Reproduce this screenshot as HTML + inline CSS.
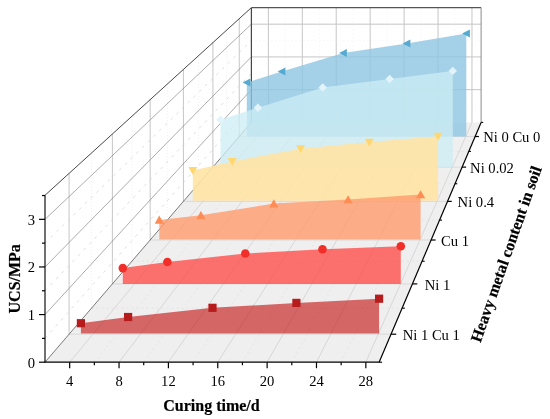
<!DOCTYPE html>
<html><head><meta charset="utf-8"><title>UCS chart</title>
<style>
html,body{margin:0;padding:0;background:#fff;}
svg{display:block;}
.t{font-family:"Liberation Serif",serif;font-size:14.6px;fill:#000;}
.b{font-family:"Liberation Serif",serif;font-size:16px;font-weight:bold;fill:#000;stroke:#000;stroke-width:0.2px;}
.bi{font-family:"Liberation Serif",serif;font-size:16.05px;font-weight:bold;fill:#000;stroke:#000;stroke-width:0.2px;}
</style></head><body>
<svg width="550" height="419" viewBox="0 0 550 419">
<rect width="550" height="419" fill="#fff"/>
<polygon points="45.00,362.20 379.11,362.20 481.10,122.40 251.39,122.40" fill="#efefef"/>
<line x1="69.68" y1="362.20" x2="268.36" y2="122.40" stroke="#d0d0d0" stroke-width="0.8"/>
<line x1="119.04" y1="362.20" x2="302.30" y2="122.40" stroke="#d0d0d0" stroke-width="0.8"/>
<line x1="168.40" y1="362.20" x2="336.23" y2="122.40" stroke="#d0d0d0" stroke-width="0.8"/>
<line x1="217.76" y1="362.20" x2="370.17" y2="122.40" stroke="#d0d0d0" stroke-width="0.8"/>
<line x1="267.12" y1="362.20" x2="404.10" y2="122.40" stroke="#d0d0d0" stroke-width="0.8"/>
<line x1="316.48" y1="362.20" x2="438.04" y2="122.40" stroke="#d0d0d0" stroke-width="0.8"/>
<line x1="365.84" y1="362.20" x2="471.98" y2="122.40" stroke="#d0d0d0" stroke-width="0.8"/>
<line x1="94.36" y1="362.20" x2="285.33" y2="122.40" stroke="#dcdcdc" stroke-width="0.6" stroke-dasharray="2 3"/>
<line x1="143.72" y1="362.20" x2="319.26" y2="122.40" stroke="#dcdcdc" stroke-width="0.6" stroke-dasharray="2 3"/>
<line x1="193.08" y1="362.20" x2="353.20" y2="122.40" stroke="#dcdcdc" stroke-width="0.6" stroke-dasharray="2 3"/>
<line x1="242.44" y1="362.20" x2="387.14" y2="122.40" stroke="#dcdcdc" stroke-width="0.6" stroke-dasharray="2 3"/>
<line x1="291.80" y1="362.20" x2="421.07" y2="122.40" stroke="#dcdcdc" stroke-width="0.6" stroke-dasharray="2 3"/>
<line x1="341.16" y1="362.20" x2="455.01" y2="122.40" stroke="#dcdcdc" stroke-width="0.6" stroke-dasharray="2 3"/>
<line x1="69.10" y1="334.20" x2="391.02" y2="334.20" stroke="#d4d4d4" stroke-width="0.8"/>
<line x1="112.39" y1="283.90" x2="412.41" y2="283.90" stroke="#d4d4d4" stroke-width="0.8"/>
<line x1="150.17" y1="240.01" x2="431.07" y2="240.01" stroke="#d4d4d4" stroke-width="0.8"/>
<line x1="183.42" y1="201.38" x2="447.51" y2="201.38" stroke="#d4d4d4" stroke-width="0.8"/>
<line x1="212.91" y1="167.11" x2="462.08" y2="167.11" stroke="#d4d4d4" stroke-width="0.8"/>
<line x1="239.25" y1="136.51" x2="475.10" y2="136.51" stroke="#d4d4d4" stroke-width="0.8"/>
<line x1="91.51" y1="308.16" x2="402.09" y2="308.16" stroke="#dcdcdc" stroke-width="0.6" stroke-dasharray="2 3"/>
<line x1="131.90" y1="261.24" x2="422.05" y2="261.24" stroke="#dcdcdc" stroke-width="0.6" stroke-dasharray="2 3"/>
<line x1="167.30" y1="220.10" x2="439.54" y2="220.10" stroke="#dcdcdc" stroke-width="0.6" stroke-dasharray="2 3"/>
<line x1="198.59" y1="183.75" x2="455.01" y2="183.75" stroke="#dcdcdc" stroke-width="0.6" stroke-dasharray="2 3"/>
<line x1="226.44" y1="151.39" x2="468.77" y2="151.39" stroke="#dcdcdc" stroke-width="0.6" stroke-dasharray="2 3"/>
<line x1="268.36" y1="122.40" x2="268.36" y2="7.65" stroke="#c6c6c6" stroke-width="1"/>
<line x1="302.30" y1="122.40" x2="302.30" y2="7.65" stroke="#c6c6c6" stroke-width="1"/>
<line x1="336.23" y1="122.40" x2="336.23" y2="7.65" stroke="#c6c6c6" stroke-width="1"/>
<line x1="370.17" y1="122.40" x2="370.17" y2="7.65" stroke="#c6c6c6" stroke-width="1"/>
<line x1="404.10" y1="122.40" x2="404.10" y2="7.65" stroke="#c6c6c6" stroke-width="1"/>
<line x1="438.04" y1="122.40" x2="438.04" y2="7.65" stroke="#c6c6c6" stroke-width="1"/>
<line x1="471.98" y1="122.40" x2="471.98" y2="7.65" stroke="#c6c6c6" stroke-width="1"/>
<line x1="285.33" y1="122.40" x2="285.33" y2="7.65" stroke="#ebebeb" stroke-width="0.6" stroke-dasharray="1 3"/>
<line x1="319.26" y1="122.40" x2="319.26" y2="7.65" stroke="#ebebeb" stroke-width="0.6" stroke-dasharray="1 3"/>
<line x1="353.20" y1="122.40" x2="353.20" y2="7.65" stroke="#ebebeb" stroke-width="0.6" stroke-dasharray="1 3"/>
<line x1="387.14" y1="122.40" x2="387.14" y2="7.65" stroke="#ebebeb" stroke-width="0.6" stroke-dasharray="1 3"/>
<line x1="421.07" y1="122.40" x2="421.07" y2="7.65" stroke="#ebebeb" stroke-width="0.6" stroke-dasharray="1 3"/>
<line x1="455.01" y1="122.40" x2="455.01" y2="7.65" stroke="#ebebeb" stroke-width="0.6" stroke-dasharray="1 3"/>
<line x1="251.39" y1="89.66" x2="481.10" y2="89.66" stroke="#c6c6c6" stroke-width="1"/>
<line x1="251.39" y1="56.92" x2="481.10" y2="56.92" stroke="#c6c6c6" stroke-width="1"/>
<line x1="251.39" y1="24.18" x2="481.10" y2="24.18" stroke="#c6c6c6" stroke-width="1"/>
<line x1="251.39" y1="106.03" x2="481.10" y2="106.03" stroke="#ebebeb" stroke-width="0.6" stroke-dasharray="1 3"/>
<line x1="251.39" y1="73.29" x2="481.10" y2="73.29" stroke="#ebebeb" stroke-width="0.6" stroke-dasharray="1 3"/>
<line x1="251.39" y1="40.55" x2="481.10" y2="40.55" stroke="#ebebeb" stroke-width="0.6" stroke-dasharray="1 3"/>
<line x1="69.10" y1="334.20" x2="69.10" y2="173.38" stroke="#c6c6c6" stroke-width="1"/>
<line x1="112.39" y1="283.90" x2="112.39" y2="134.02" stroke="#c6c6c6" stroke-width="1"/>
<line x1="150.17" y1="240.01" x2="150.17" y2="99.68" stroke="#c6c6c6" stroke-width="1"/>
<line x1="183.42" y1="201.38" x2="183.42" y2="69.45" stroke="#c6c6c6" stroke-width="1"/>
<line x1="212.91" y1="167.11" x2="212.91" y2="42.64" stroke="#c6c6c6" stroke-width="1"/>
<line x1="239.25" y1="136.51" x2="239.25" y2="18.69" stroke="#c6c6c6" stroke-width="1"/>
<line x1="91.51" y1="308.16" x2="91.51" y2="153.01" stroke="#e6e6e6" stroke-width="0.6" stroke-dasharray="1 2"/>
<line x1="131.90" y1="261.24" x2="131.90" y2="116.29" stroke="#e6e6e6" stroke-width="0.6" stroke-dasharray="1 2"/>
<line x1="167.30" y1="220.10" x2="167.30" y2="84.10" stroke="#e6e6e6" stroke-width="0.6" stroke-dasharray="1 2"/>
<line x1="198.59" y1="183.75" x2="198.59" y2="55.65" stroke="#e6e6e6" stroke-width="0.6" stroke-dasharray="1 2"/>
<line x1="226.44" y1="151.39" x2="226.44" y2="30.33" stroke="#e6e6e6" stroke-width="0.6" stroke-dasharray="1 2"/>
<line x1="45.00" y1="314.58" x2="251.39" y2="89.66" stroke="#747474" stroke-width="0.6"/>
<line x1="45.00" y1="266.96" x2="251.39" y2="56.92" stroke="#747474" stroke-width="0.6"/>
<line x1="45.00" y1="219.34" x2="251.39" y2="24.18" stroke="#747474" stroke-width="0.6"/>
<line x1="45.00" y1="338.39" x2="251.39" y2="106.03" stroke="#d0d0d0" stroke-width="0.7" stroke-dasharray="3 5"/>
<line x1="45.00" y1="290.77" x2="251.39" y2="73.29" stroke="#d0d0d0" stroke-width="0.7" stroke-dasharray="3 5"/>
<line x1="45.00" y1="243.15" x2="251.39" y2="40.55" stroke="#d0d0d0" stroke-width="0.7" stroke-dasharray="3 5"/>
<line x1="45.00" y1="362.20" x2="251.39" y2="122.40" stroke="#444" stroke-width="0.7"/>
<line x1="45.00" y1="195.29" x2="251.39" y2="7.65" stroke="#333" stroke-width="0.9"/>
<line x1="251.39" y1="122.40" x2="251.39" y2="7.65" stroke="#444" stroke-width="1.2"/>
<line x1="251.39" y1="7.65" x2="481.10" y2="7.65" stroke="#555" stroke-width="1.1"/>
<line x1="481.10" y1="7.65" x2="481.10" y2="122.40" stroke="#8a8a8a" stroke-width="1"/>
<polygon points="246.80,136.40 246.80,82.60 281.80,71.40 343.30,53.00 406.80,43.40 466.30,33.60 466.30,136.40" fill="#8fc6e2" fill-opacity="0.8"/>
<polygon points="242.60,82.60 250.40,78.60 250.40,86.60" fill="#55aad2"/>
<polygon points="277.60,71.40 285.40,67.40 285.40,75.40" fill="#55aad2"/>
<polygon points="339.10,53.00 346.90,49.00 346.90,57.00" fill="#55aad2"/>
<polygon points="402.60,43.40 410.40,39.40 410.40,47.40" fill="#55aad2"/>
<polygon points="462.10,33.60 469.90,29.60 469.90,37.60" fill="#55aad2"/>
<polygon points="220.50,167.30 220.50,119.80 257.90,107.70 322.70,87.50 389.70,79.00 452.80,70.90 452.80,167.30" fill="#cdeef5" fill-opacity="0.76"/>
<polygon points="220.50,115.60 224.70,119.80 220.50,124.00 216.30,119.80" fill="#e2f4f9"/>
<polygon points="257.90,103.50 262.10,107.70 257.90,111.90 253.70,107.70" fill="#e2f4f9"/>
<polygon points="322.70,83.30 326.90,87.50 322.70,91.70 318.50,87.50" fill="#e2f4f9"/>
<polygon points="389.70,74.80 393.90,79.00 389.70,83.20 385.50,79.00" fill="#e2f4f9"/>
<polygon points="452.80,66.70 457.00,70.90 452.80,75.10 448.60,70.90" fill="#e2f4f9"/>
<polygon points="192.80,200.80 192.80,170.50 232.20,161.40 300.60,148.70 369.30,142.10 438.10,136.20 438.10,200.80" fill="#ffe3a4" fill-opacity="0.9"/>
<polygon points="192.80,174.80 197.30,167.10 188.30,167.10" fill="#ffd76e"/>
<polygon points="232.20,165.70 236.70,158.00 227.70,158.00" fill="#ffd76e"/>
<polygon points="300.60,153.00 305.10,145.30 296.10,145.30" fill="#ffd76e"/>
<polygon points="369.30,146.40 373.80,138.70 364.80,138.70" fill="#ffd76e"/>
<polygon points="438.10,140.50 442.60,132.80 433.60,132.80" fill="#ffd76e"/>
<polygon points="159.30,239.60 159.30,219.90 200.90,215.30 273.80,203.60 348.10,199.50 420.60,194.50 420.60,239.60" fill="#ff9c6d" fill-opacity="0.8"/>
<polygon points="159.30,215.60 163.90,223.70 154.70,223.70" fill="#ff8c55"/>
<polygon points="200.90,211.00 205.50,219.10 196.30,219.10" fill="#ff8c55"/>
<polygon points="273.80,199.30 278.40,207.40 269.20,207.40" fill="#ff8c55"/>
<polygon points="348.10,195.20 352.70,203.30 343.50,203.30" fill="#ff8c55"/>
<polygon points="420.60,190.20 425.20,198.30 416.00,198.30" fill="#ff8c55"/>
<polygon points="122.80,283.90 122.80,268.10 167.40,262.00 245.30,253.50 322.50,249.20 400.80,246.30 400.80,283.90" fill="#ff4540" fill-opacity="0.75"/>
<circle cx="122.80" cy="268.10" r="4.3" fill="#f22e28"/>
<circle cx="167.40" cy="262.00" r="4.3" fill="#f22e28"/>
<circle cx="245.30" cy="253.50" r="4.3" fill="#f22e28"/>
<circle cx="322.50" cy="249.20" r="4.3" fill="#f22e28"/>
<circle cx="400.80" cy="246.30" r="4.3" fill="#f22e28"/>
<polygon points="80.90,333.60 80.90,323.20 128.10,317.00 212.50,307.80 296.40,302.90 379.10,298.70 379.10,333.60" fill="#c31212" fill-opacity="0.62"/>
<rect x="76.80" y="319.10" width="8.2" height="8.2" fill="#b71c1c"/>
<rect x="124.00" y="312.90" width="8.2" height="8.2" fill="#b71c1c"/>
<rect x="208.40" y="303.70" width="8.2" height="8.2" fill="#b71c1c"/>
<rect x="292.30" y="298.80" width="8.2" height="8.2" fill="#b71c1c"/>
<rect x="375.00" y="294.60" width="8.2" height="8.2" fill="#b71c1c"/>
<line x1="45.00" y1="362.20" x2="45.00" y2="195.29" stroke="#111" stroke-width="1.2"/>
<line x1="44.40" y1="362.20" x2="379.60" y2="362.20" stroke="#000" stroke-width="1.25"/>
<line x1="379.11" y1="362.20" x2="481.10" y2="122.40" stroke="#000" stroke-width="1.2"/>
<line x1="39.00" y1="362.20" x2="45.00" y2="362.20" stroke="#000" stroke-width="1.2"/>
<text x="35" y="367.60" text-anchor="end" class="t">0</text>
<line x1="42.00" y1="338.39" x2="45.00" y2="338.39" stroke="#000" stroke-width="1.2"/>
<line x1="39.00" y1="314.58" x2="45.00" y2="314.58" stroke="#000" stroke-width="1.2"/>
<text x="35" y="319.98" text-anchor="end" class="t">1</text>
<line x1="42.00" y1="290.77" x2="45.00" y2="290.77" stroke="#000" stroke-width="1.2"/>
<line x1="39.00" y1="266.96" x2="45.00" y2="266.96" stroke="#000" stroke-width="1.2"/>
<text x="35" y="272.36" text-anchor="end" class="t">2</text>
<line x1="42.00" y1="243.15" x2="45.00" y2="243.15" stroke="#000" stroke-width="1.2"/>
<line x1="39.00" y1="219.34" x2="45.00" y2="219.34" stroke="#000" stroke-width="1.2"/>
<text x="35" y="224.74" text-anchor="end" class="t">3</text>
<line x1="42.00" y1="195.53" x2="45.00" y2="195.53" stroke="#000" stroke-width="1.2"/>
<line x1="69.68" y1="362.20" x2="69.68" y2="368.20" stroke="#000" stroke-width="1.2"/>
<text x="69.68" y="385.6" text-anchor="middle" class="t">4</text>
<line x1="94.36" y1="362.20" x2="94.36" y2="365.20" stroke="#000" stroke-width="1.2"/>
<line x1="119.04" y1="362.20" x2="119.04" y2="368.20" stroke="#000" stroke-width="1.2"/>
<text x="119.04" y="385.6" text-anchor="middle" class="t">8</text>
<line x1="143.72" y1="362.20" x2="143.72" y2="365.20" stroke="#000" stroke-width="1.2"/>
<line x1="168.40" y1="362.20" x2="168.40" y2="368.20" stroke="#000" stroke-width="1.2"/>
<text x="168.40" y="385.6" text-anchor="middle" class="t">12</text>
<line x1="193.08" y1="362.20" x2="193.08" y2="365.20" stroke="#000" stroke-width="1.2"/>
<line x1="217.76" y1="362.20" x2="217.76" y2="368.20" stroke="#000" stroke-width="1.2"/>
<text x="217.76" y="385.6" text-anchor="middle" class="t">16</text>
<line x1="242.44" y1="362.20" x2="242.44" y2="365.20" stroke="#000" stroke-width="1.2"/>
<line x1="267.12" y1="362.20" x2="267.12" y2="368.20" stroke="#000" stroke-width="1.2"/>
<text x="267.12" y="385.6" text-anchor="middle" class="t">20</text>
<line x1="291.80" y1="362.20" x2="291.80" y2="365.20" stroke="#000" stroke-width="1.2"/>
<line x1="316.48" y1="362.20" x2="316.48" y2="368.20" stroke="#000" stroke-width="1.2"/>
<text x="316.48" y="385.6" text-anchor="middle" class="t">24</text>
<line x1="341.16" y1="362.20" x2="341.16" y2="365.20" stroke="#000" stroke-width="1.2"/>
<line x1="365.84" y1="362.20" x2="365.84" y2="368.20" stroke="#000" stroke-width="1.2"/>
<text x="365.84" y="385.6" text-anchor="middle" class="t">28</text>
<line x1="391.02" y1="334.20" x2="396.22" y2="334.20" stroke="#000" stroke-width="1.2"/>
<text x="402.70" y="340.00" class="t">Ni 1 Cu 1</text>
<line x1="412.41" y1="283.90" x2="417.26" y2="283.90" stroke="#000" stroke-width="1.2"/>
<text x="424.80" y="289.70" class="t">Ni 1</text>
<line x1="431.07" y1="240.01" x2="435.61" y2="240.01" stroke="#000" stroke-width="1.2"/>
<text x="441.00" y="245.81" class="t">Cu 1</text>
<line x1="447.51" y1="201.38" x2="451.77" y2="201.38" stroke="#000" stroke-width="1.2"/>
<text x="457.60" y="207.18" class="t">Ni 0.4</text>
<line x1="462.08" y1="167.11" x2="466.11" y2="167.11" stroke="#000" stroke-width="1.2"/>
<text x="470.10" y="172.91" class="t">Ni 0.02</text>
<line x1="475.10" y1="136.51" x2="478.91" y2="136.51" stroke="#000" stroke-width="1.2"/>
<text x="483.20" y="142.31" class="t">Ni 0 Cu 0</text>
<line x1="379.11" y1="362.20" x2="382.11" y2="362.20" stroke="#000" stroke-width="1.1"/>
<line x1="402.09" y1="308.16" x2="404.88" y2="308.16" stroke="#000" stroke-width="1.1"/>
<line x1="422.05" y1="261.24" x2="424.65" y2="261.24" stroke="#000" stroke-width="1.1"/>
<line x1="439.54" y1="220.10" x2="441.99" y2="220.10" stroke="#000" stroke-width="1.1"/>
<line x1="455.01" y1="183.75" x2="457.31" y2="183.75" stroke="#000" stroke-width="1.1"/>
<line x1="468.77" y1="151.39" x2="470.94" y2="151.39" stroke="#000" stroke-width="1.1"/>
<line x1="481.10" y1="122.40" x2="483.16" y2="122.40" stroke="#000" stroke-width="1.1"/>
<text transform="translate(19.6,278.8) rotate(-90)" text-anchor="middle" class="b">UCS/MPa</text>
<text x="211.5" y="410.8" text-anchor="middle" class="b">Curing time/d</text>
<text transform="translate(480.4,343.2) rotate(-70.6)" class="bi">Heavy metal content in soil</text>
</svg>
</body></html>
